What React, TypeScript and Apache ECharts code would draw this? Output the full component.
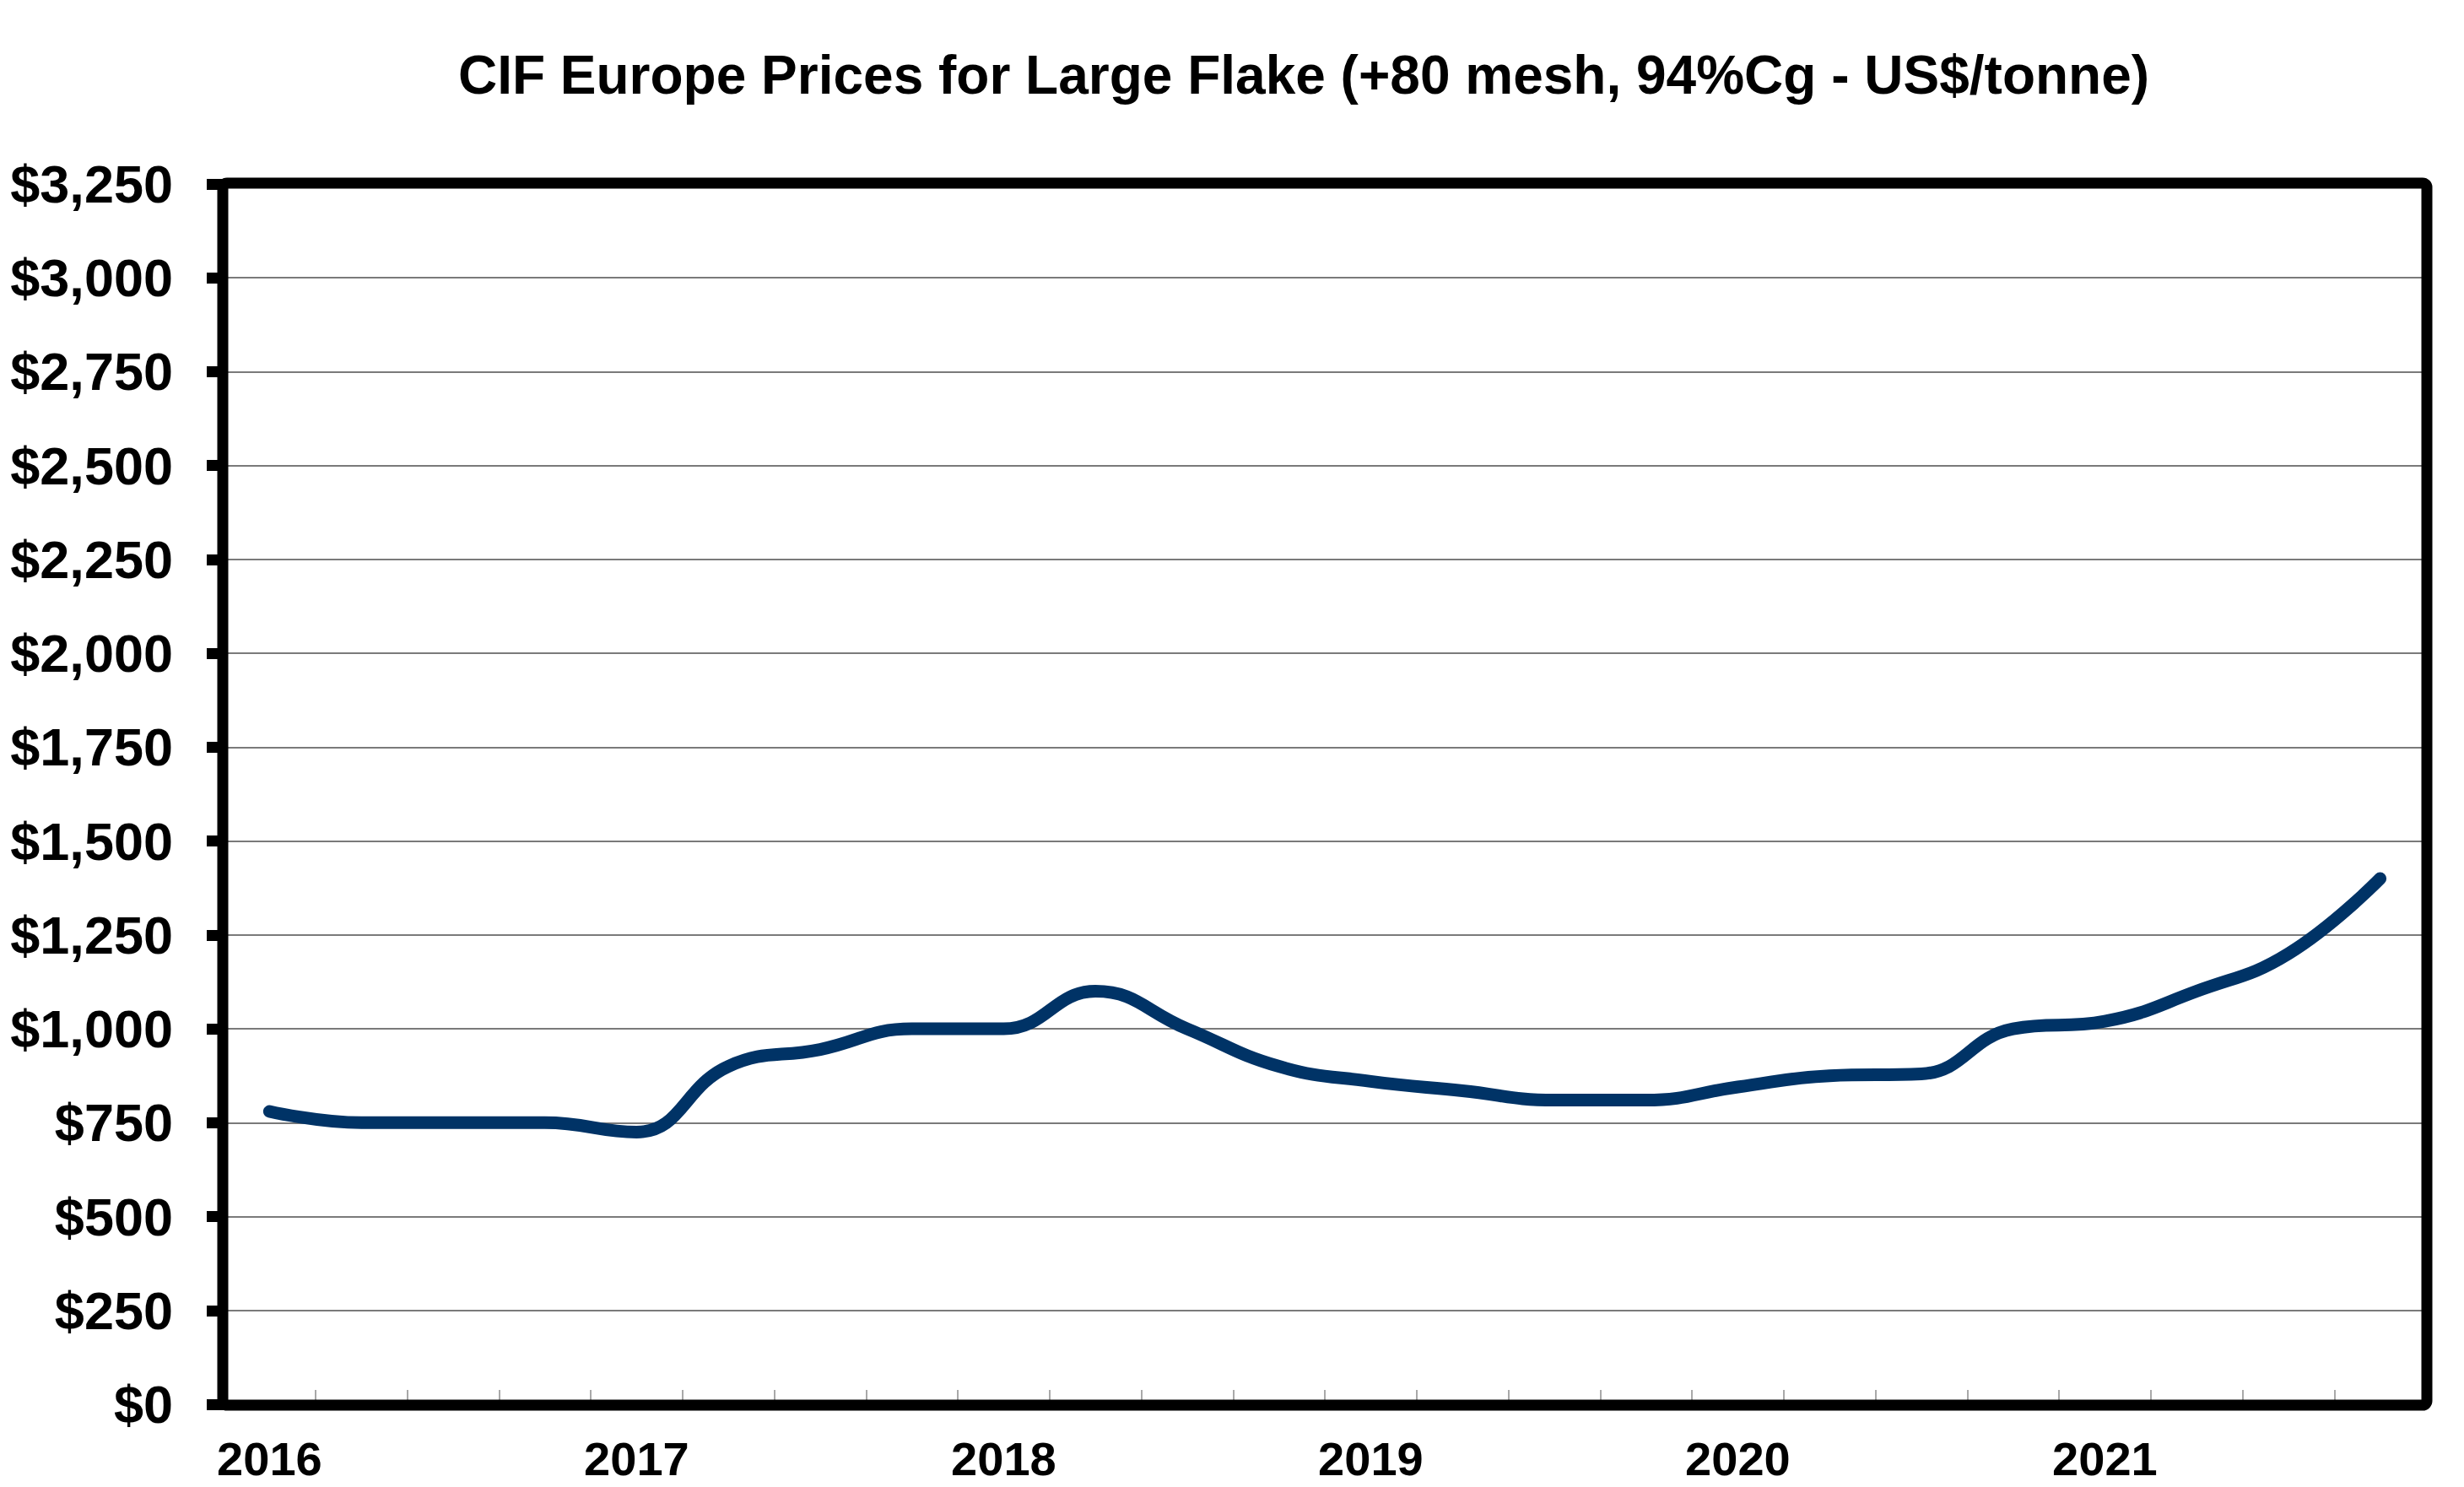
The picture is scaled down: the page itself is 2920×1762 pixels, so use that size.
import React, { useEffect, useRef } from "react";
import * as echarts from "echarts";

const TITLE = "CIF Europe Prices for Large Flake (+80 mesh, 94%Cg - US$/tonne)";
const YEARS = ["2016", "2017", "2018", "2019", "2020", "2021"];
const QUARTERS = ["Q1", "Q2", "Q3", "Q4"];
const CATEGORIES = YEARS.flatMap((y) => QUARTERS.map((q) => `${y} ${q}`));
const PRICES = [
  780, 750, 750, 750,
  725, 900, 945, 1000,
  1000, 1100, 1000, 900,
  860, 835, 810, 810,
  845, 875, 880, 1000,
  1020, 1100, 1200, 1400,
];
const Y_MIN = 0;
const Y_MAX = 3250;
const Y_STEP = 250;

const FONT = '"Liberation Sans", Arial, Helvetica, sans-serif';

const GRID_LEFT = 265;
const GRID_RIGHT = 45;
const GRID_TOP = 218;
const GRID_BOTTOM = 98;
const W = 2920;
const H = 1762;

export default function App() {
  const ref = useRef<HTMLDivElement>(null);

  useEffect(() => {
    document.body.style.margin = "0";
    if (!ref.current) return;
    const chart = echarts.init(ref.current, undefined, { renderer: "svg" });
    chart.setOption({
      animation: false,
      backgroundColor: "#ffffff",
      title: {
        text: TITLE,
        left: 1540,
        textAlign: "center",
        top: 52,
        textStyle: {
          fontFamily: FONT,
          fontWeight: "bold",
          fontSize: 64,
          color: "#000000",
        },
      },
      grid: {
        left: GRID_LEFT,
        right: GRID_RIGHT,
        top: GRID_TOP,
        bottom: GRID_BOTTOM,
        show: false,
      },
      graphic: [
        {
          type: "rect",
          z: 100,
          silent: true,
          shape: {
            x: GRID_LEFT - 1,
            y: GRID_TOP - 1,
            width: W - GRID_LEFT - GRID_RIGHT + 2,
            height: H - GRID_TOP - GRID_BOTTOM + 2,
            r: 5,
          },
          style: { fill: "transparent", stroke: "#000000", lineWidth: 13 },
        },
      ],
      xAxis: {
        type: "category",
        data: CATEGORIES,
        boundaryGap: true,
        axisLine: { show: false },
        axisTick: {
          show: true,
          inside: true,
          length: 17,
          interval: 0,
          lineStyle: { color: "#8c8c8c", width: 1.5 },
        },
        axisLabel: {
          interval: 0,
          margin: 36,
          fontFamily: FONT,
          fontWeight: "bold",
          fontSize: 56,
          color: "#000000",
          formatter: (v: string) => (v.endsWith("Q1") ? v.slice(0, 4) : ""),
        },
        splitLine: { show: false },
      },
      yAxis: {
        type: "value",
        min: Y_MIN,
        max: Y_MAX,
        interval: Y_STEP,
        axisLine: { show: false },
        axisTick: {
          show: true,
          length: 20,
          lineStyle: { color: "#000000", width: 13 },
        },
        axisLabel: {
          margin: 60,
          fontFamily: FONT,
          fontWeight: "bold",
          fontSize: 63,
          color: "#000000",
          formatter: (v: number) => "$" + v.toLocaleString("en-US"),
        },
        splitLine: { show: true, lineStyle: { color: "#7a7a7a", width: 2 } },
      },
      series: [
        {
          type: "line",
          data: PRICES,
          smooth: 0.45,
          symbol: "none",
          lineStyle: { color: "#003366", width: 15, cap: "round", join: "round" },
          z: 3,
        },
      ],
    });
    return () => chart.dispose();
  }, []);

  return (
    <div
      ref={ref}
      style={{ position: "fixed", left: 0, top: 0, width: W, height: H, background: "#fff" }}
    />
  );
}
